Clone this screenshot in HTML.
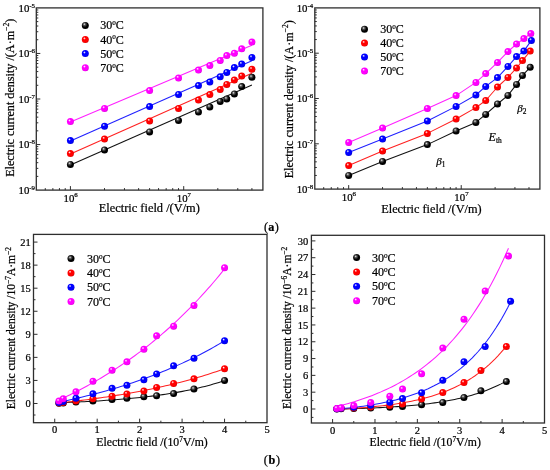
<!DOCTYPE html><html><head><meta charset="utf-8"><style>html,body{margin:0;padding:0;background:#fff;}body{width:550px;height:470px;overflow:hidden;}text{stroke:#000;stroke-width:0.22px;}</style></head><body><svg width="550" height="470" viewBox="0 0 550 470" style="display:block">
<defs>
<radialGradient id="gk" cx="0.42" cy="0.4" r="0.6" fx="0.36" fy="0.32"><stop offset="0" stop-color="#f0f0f0"/><stop offset="0.28" stop-color="#555"/><stop offset="0.65" stop-color="#000"/><stop offset="1" stop-color="#000"/></radialGradient>
<radialGradient id="gr" cx="0.42" cy="0.4" r="0.62" fx="0.36" fy="0.32"><stop offset="0" stop-color="#ffffff"/><stop offset="0.32" stop-color="#ff0000"/><stop offset="0.8" stop-color="#ff0000"/><stop offset="1" stop-color="#d00000"/></radialGradient>
<radialGradient id="gb" cx="0.42" cy="0.4" r="0.62" fx="0.36" fy="0.32"><stop offset="0" stop-color="#ffffff"/><stop offset="0.32" stop-color="#0000ff"/><stop offset="0.8" stop-color="#0000ff"/><stop offset="1" stop-color="#0000c8"/></radialGradient>
<radialGradient id="gm" cx="0.42" cy="0.4" r="0.62" fx="0.36" fy="0.32"><stop offset="0" stop-color="#ffffff"/><stop offset="0.32" stop-color="#ff00ff"/><stop offset="0.8" stop-color="#ff00ff"/><stop offset="1" stop-color="#d800d8"/></radialGradient>
</defs>
<rect width="550" height="470" fill="#fff"/>
<g style="font-family:'Liberation Serif','Times New Roman',serif" fill="#000">
<line x1="45.27" y1="190.1" x2="45.27" y2="188.1" stroke="#2e2e2e" stroke-width="1.0"/>
<line x1="52.86" y1="190.1" x2="52.86" y2="188.1" stroke="#2e2e2e" stroke-width="1.0"/>
<line x1="59.43" y1="190.1" x2="59.43" y2="188.1" stroke="#2e2e2e" stroke-width="1.0"/>
<line x1="65.22" y1="190.1" x2="65.22" y2="188.1" stroke="#2e2e2e" stroke-width="1.0"/>
<line x1="70.41" y1="190.1" x2="70.41" y2="186.1" stroke="#2e2e2e" stroke-width="1.0"/>
<line x1="104.51" y1="190.1" x2="104.51" y2="188.1" stroke="#2e2e2e" stroke-width="1.0"/>
<line x1="124.46" y1="190.1" x2="124.46" y2="188.1" stroke="#2e2e2e" stroke-width="1.0"/>
<line x1="138.62" y1="190.1" x2="138.62" y2="188.1" stroke="#2e2e2e" stroke-width="1.0"/>
<line x1="149.6" y1="190.1" x2="149.6" y2="188.1" stroke="#2e2e2e" stroke-width="1.0"/>
<line x1="158.57" y1="190.1" x2="158.57" y2="188.1" stroke="#2e2e2e" stroke-width="1.0"/>
<line x1="166.16" y1="190.1" x2="166.16" y2="188.1" stroke="#2e2e2e" stroke-width="1.0"/>
<line x1="172.73" y1="190.1" x2="172.73" y2="188.1" stroke="#2e2e2e" stroke-width="1.0"/>
<line x1="178.52" y1="190.1" x2="178.52" y2="188.1" stroke="#2e2e2e" stroke-width="1.0"/>
<line x1="183.71" y1="190.1" x2="183.71" y2="186.1" stroke="#2e2e2e" stroke-width="1.0"/>
<line x1="217.81" y1="190.1" x2="217.81" y2="188.1" stroke="#2e2e2e" stroke-width="1.0"/>
<line x1="237.76" y1="190.1" x2="237.76" y2="188.1" stroke="#2e2e2e" stroke-width="1.0"/>
<line x1="251.92" y1="190.1" x2="251.92" y2="188.1" stroke="#2e2e2e" stroke-width="1.0"/>
<line x1="36.3" y1="176.39" x2="38.3" y2="176.39" stroke="#2e2e2e" stroke-width="1.0"/>
<line x1="36.3" y1="168.37" x2="38.3" y2="168.37" stroke="#2e2e2e" stroke-width="1.0"/>
<line x1="36.3" y1="162.68" x2="38.3" y2="162.68" stroke="#2e2e2e" stroke-width="1.0"/>
<line x1="36.3" y1="158.26" x2="38.3" y2="158.26" stroke="#2e2e2e" stroke-width="1.0"/>
<line x1="36.3" y1="154.66" x2="38.3" y2="154.66" stroke="#2e2e2e" stroke-width="1.0"/>
<line x1="36.3" y1="151.61" x2="38.3" y2="151.61" stroke="#2e2e2e" stroke-width="1.0"/>
<line x1="36.3" y1="148.96" x2="38.3" y2="148.96" stroke="#2e2e2e" stroke-width="1.0"/>
<line x1="36.3" y1="146.63" x2="38.3" y2="146.63" stroke="#2e2e2e" stroke-width="1.0"/>
<line x1="36.3" y1="144.55" x2="40.3" y2="144.55" stroke="#2e2e2e" stroke-width="1.0"/>
<line x1="36.3" y1="130.84" x2="38.3" y2="130.84" stroke="#2e2e2e" stroke-width="1.0"/>
<line x1="36.3" y1="122.82" x2="38.3" y2="122.82" stroke="#2e2e2e" stroke-width="1.0"/>
<line x1="36.3" y1="117.13" x2="38.3" y2="117.13" stroke="#2e2e2e" stroke-width="1.0"/>
<line x1="36.3" y1="112.71" x2="38.3" y2="112.71" stroke="#2e2e2e" stroke-width="1.0"/>
<line x1="36.3" y1="109.11" x2="38.3" y2="109.11" stroke="#2e2e2e" stroke-width="1.0"/>
<line x1="36.3" y1="106.06" x2="38.3" y2="106.06" stroke="#2e2e2e" stroke-width="1.0"/>
<line x1="36.3" y1="103.41" x2="38.3" y2="103.41" stroke="#2e2e2e" stroke-width="1.0"/>
<line x1="36.3" y1="101.08" x2="38.3" y2="101.08" stroke="#2e2e2e" stroke-width="1.0"/>
<line x1="36.3" y1="99" x2="40.3" y2="99" stroke="#2e2e2e" stroke-width="1.0"/>
<line x1="36.3" y1="85.29" x2="38.3" y2="85.29" stroke="#2e2e2e" stroke-width="1.0"/>
<line x1="36.3" y1="77.27" x2="38.3" y2="77.27" stroke="#2e2e2e" stroke-width="1.0"/>
<line x1="36.3" y1="71.58" x2="38.3" y2="71.58" stroke="#2e2e2e" stroke-width="1.0"/>
<line x1="36.3" y1="67.16" x2="38.3" y2="67.16" stroke="#2e2e2e" stroke-width="1.0"/>
<line x1="36.3" y1="63.56" x2="38.3" y2="63.56" stroke="#2e2e2e" stroke-width="1.0"/>
<line x1="36.3" y1="60.51" x2="38.3" y2="60.51" stroke="#2e2e2e" stroke-width="1.0"/>
<line x1="36.3" y1="57.86" x2="38.3" y2="57.86" stroke="#2e2e2e" stroke-width="1.0"/>
<line x1="36.3" y1="55.53" x2="38.3" y2="55.53" stroke="#2e2e2e" stroke-width="1.0"/>
<line x1="36.3" y1="53.45" x2="40.3" y2="53.45" stroke="#2e2e2e" stroke-width="1.0"/>
<line x1="36.3" y1="39.74" x2="38.3" y2="39.74" stroke="#2e2e2e" stroke-width="1.0"/>
<line x1="36.3" y1="31.72" x2="38.3" y2="31.72" stroke="#2e2e2e" stroke-width="1.0"/>
<line x1="36.3" y1="26.03" x2="38.3" y2="26.03" stroke="#2e2e2e" stroke-width="1.0"/>
<line x1="36.3" y1="21.61" x2="38.3" y2="21.61" stroke="#2e2e2e" stroke-width="1.0"/>
<line x1="36.3" y1="18.01" x2="38.3" y2="18.01" stroke="#2e2e2e" stroke-width="1.0"/>
<line x1="36.3" y1="14.96" x2="38.3" y2="14.96" stroke="#2e2e2e" stroke-width="1.0"/>
<line x1="36.3" y1="12.31" x2="38.3" y2="12.31" stroke="#2e2e2e" stroke-width="1.0"/>
<line x1="36.3" y1="9.98" x2="38.3" y2="9.98" stroke="#2e2e2e" stroke-width="1.0"/>
<rect x="36.3" y="7.9" width="226.6" height="182.2" fill="none" stroke="#2e2e2e" stroke-width="1.3"/>
<text x="35" y="193.8" font-size="10.8" text-anchor="end" >10<tspan font-size="6.8" dy="-3.9">-9</tspan></text>
<text x="35" y="148.25" font-size="10.8" text-anchor="end" >10<tspan font-size="6.8" dy="-3.9">-8</tspan></text>
<text x="35" y="102.7" font-size="10.8" text-anchor="end" >10<tspan font-size="6.8" dy="-3.9">-7</tspan></text>
<text x="35" y="57.15" font-size="10.8" text-anchor="end" >10<tspan font-size="6.8" dy="-3.9">-6</tspan></text>
<text x="35" y="11.6" font-size="10.8" text-anchor="end" >10<tspan font-size="6.8" dy="-3.9">-5</tspan></text>
<text x="70.61" y="201.7" font-size="10.8" text-anchor="middle" >10<tspan font-size="6.8" dy="-4.8">6</tspan></text>
<text x="183.91" y="201.7" font-size="10.8" text-anchor="middle" >10<tspan font-size="6.8" dy="-4.8">7</tspan></text>
<text x="149.3" y="212.3" font-size="12.4" text-anchor="middle" >Electric field /(V/m)</text>
<text transform="translate(13.9,97.8) rotate(-90)" font-size="12.15" text-anchor="middle">Electric current density /(A·m<tspan font-size="7.6" dy="-4.5">−2</tspan><tspan dy="4.5">)</tspan></text>
<polyline points="70.41,165 251.92,85" fill="none" stroke="#111111" stroke-width="1.05" stroke-linejoin="round"/>
<polyline points="70.41,154 251.92,73.3" fill="none" stroke="#ff2020" stroke-width="1.05" stroke-linejoin="round"/>
<polyline points="70.41,141 251.92,60.8" fill="none" stroke="#2020ff" stroke-width="1.05" stroke-linejoin="round"/>
<polyline points="70.41,122 251.92,45.2" fill="none" stroke="#ff20ff" stroke-width="1.05" stroke-linejoin="round"/>
<circle cx="70.41" cy="164.4" r="3.5" fill="url(#gk)"/>
<circle cx="104.51" cy="150" r="3.5" fill="url(#gk)"/>
<circle cx="149.6" cy="132" r="3.5" fill="url(#gk)"/>
<circle cx="178.52" cy="120.4" r="3.5" fill="url(#gk)"/>
<circle cx="198.47" cy="112" r="3.5" fill="url(#gk)"/>
<circle cx="209.82" cy="107" r="3.5" fill="url(#gk)"/>
<circle cx="220.21" cy="101.4" r="3.5" fill="url(#gk)"/>
<circle cx="226.78" cy="99" r="3.5" fill="url(#gk)"/>
<circle cx="234.37" cy="94" r="3.5" fill="url(#gk)"/>
<circle cx="241.7" cy="86.6" r="3.5" fill="url(#gk)"/>
<circle cx="251.92" cy="77.3" r="3.5" fill="url(#gk)"/>
<circle cx="70.41" cy="153.6" r="3.5" fill="url(#gr)"/>
<circle cx="104.51" cy="139" r="3.5" fill="url(#gr)"/>
<circle cx="149.6" cy="121" r="3.5" fill="url(#gr)"/>
<circle cx="178.52" cy="108.4" r="3.5" fill="url(#gr)"/>
<circle cx="198.47" cy="100" r="3.5" fill="url(#gr)"/>
<circle cx="209.82" cy="94.6" r="3.5" fill="url(#gr)"/>
<circle cx="220.21" cy="89.4" r="3.5" fill="url(#gr)"/>
<circle cx="226.78" cy="84.4" r="3.5" fill="url(#gr)"/>
<circle cx="234.37" cy="80" r="3.5" fill="url(#gr)"/>
<circle cx="241.7" cy="76" r="3.5" fill="url(#gr)"/>
<circle cx="251.92" cy="69.2" r="3.5" fill="url(#gr)"/>
<circle cx="70.41" cy="140.6" r="3.5" fill="url(#gb)"/>
<circle cx="104.51" cy="126.2" r="3.5" fill="url(#gb)"/>
<circle cx="149.6" cy="106.6" r="3.5" fill="url(#gb)"/>
<circle cx="178.52" cy="94.4" r="3.5" fill="url(#gb)"/>
<circle cx="198.47" cy="85.6" r="3.5" fill="url(#gb)"/>
<circle cx="209.82" cy="82" r="3.5" fill="url(#gb)"/>
<circle cx="220.21" cy="76.8" r="3.5" fill="url(#gb)"/>
<circle cx="226.78" cy="72.4" r="3.5" fill="url(#gb)"/>
<circle cx="234.37" cy="67.6" r="3.5" fill="url(#gb)"/>
<circle cx="241.7" cy="64" r="3.5" fill="url(#gb)"/>
<circle cx="251.92" cy="57.5" r="3.5" fill="url(#gb)"/>
<circle cx="70.41" cy="121.6" r="3.5" fill="url(#gm)"/>
<circle cx="104.51" cy="108.4" r="3.5" fill="url(#gm)"/>
<circle cx="149.6" cy="90.6" r="3.5" fill="url(#gm)"/>
<circle cx="178.52" cy="78" r="3.5" fill="url(#gm)"/>
<circle cx="198.47" cy="70" r="3.5" fill="url(#gm)"/>
<circle cx="209.82" cy="65.6" r="3.5" fill="url(#gm)"/>
<circle cx="220.21" cy="60.4" r="3.5" fill="url(#gm)"/>
<circle cx="226.78" cy="55.6" r="3.5" fill="url(#gm)"/>
<circle cx="234.37" cy="53.2" r="3.5" fill="url(#gm)"/>
<circle cx="241.7" cy="48.8" r="3.5" fill="url(#gm)"/>
<circle cx="251.92" cy="42" r="3.5" fill="url(#gm)"/>
<circle cx="85.3" cy="25.4" r="3.5" fill="url(#gk)"/>
<text x="100.2" y="29.48" font-size="12" text-anchor="start" >30<tspan font-size="7.2" dy="-4.1">o</tspan><tspan dy="4.1">C</tspan></text>
<circle cx="85.3" cy="39.5" r="3.5" fill="url(#gr)"/>
<text x="100.2" y="43.58" font-size="12" text-anchor="start" >40<tspan font-size="7.2" dy="-4.1">o</tspan><tspan dy="4.1">C</tspan></text>
<circle cx="85.3" cy="53.6" r="3.5" fill="url(#gb)"/>
<text x="100.2" y="57.68" font-size="12" text-anchor="start" >50<tspan font-size="7.2" dy="-4.1">o</tspan><tspan dy="4.1">C</tspan></text>
<circle cx="85.3" cy="67.7" r="3.5" fill="url(#gm)"/>
<text x="100.2" y="71.78" font-size="12" text-anchor="start" >70<tspan font-size="7.2" dy="-4.1">o</tspan><tspan dy="4.1">C</tspan></text>
<line x1="323.71" y1="189.1" x2="323.71" y2="187.1" stroke="#2e2e2e" stroke-width="1.0"/>
<line x1="331.25" y1="189.1" x2="331.25" y2="187.1" stroke="#2e2e2e" stroke-width="1.0"/>
<line x1="337.77" y1="189.1" x2="337.77" y2="187.1" stroke="#2e2e2e" stroke-width="1.0"/>
<line x1="343.53" y1="189.1" x2="343.53" y2="187.1" stroke="#2e2e2e" stroke-width="1.0"/>
<line x1="348.68" y1="189.1" x2="348.68" y2="185.1" stroke="#2e2e2e" stroke-width="1.0"/>
<line x1="382.56" y1="189.1" x2="382.56" y2="187.1" stroke="#2e2e2e" stroke-width="1.0"/>
<line x1="402.38" y1="189.1" x2="402.38" y2="187.1" stroke="#2e2e2e" stroke-width="1.0"/>
<line x1="416.44" y1="189.1" x2="416.44" y2="187.1" stroke="#2e2e2e" stroke-width="1.0"/>
<line x1="427.35" y1="189.1" x2="427.35" y2="187.1" stroke="#2e2e2e" stroke-width="1.0"/>
<line x1="436.26" y1="189.1" x2="436.26" y2="187.1" stroke="#2e2e2e" stroke-width="1.0"/>
<line x1="443.8" y1="189.1" x2="443.8" y2="187.1" stroke="#2e2e2e" stroke-width="1.0"/>
<line x1="450.32" y1="189.1" x2="450.32" y2="187.1" stroke="#2e2e2e" stroke-width="1.0"/>
<line x1="456.08" y1="189.1" x2="456.08" y2="187.1" stroke="#2e2e2e" stroke-width="1.0"/>
<line x1="461.23" y1="189.1" x2="461.23" y2="185.1" stroke="#2e2e2e" stroke-width="1.0"/>
<line x1="495.11" y1="189.1" x2="495.11" y2="187.1" stroke="#2e2e2e" stroke-width="1.0"/>
<line x1="514.93" y1="189.1" x2="514.93" y2="187.1" stroke="#2e2e2e" stroke-width="1.0"/>
<line x1="528.99" y1="189.1" x2="528.99" y2="187.1" stroke="#2e2e2e" stroke-width="1.0"/>
<line x1="314.8" y1="175.46" x2="316.8" y2="175.46" stroke="#2e2e2e" stroke-width="1.0"/>
<line x1="314.8" y1="167.49" x2="316.8" y2="167.49" stroke="#2e2e2e" stroke-width="1.0"/>
<line x1="314.8" y1="161.83" x2="316.8" y2="161.83" stroke="#2e2e2e" stroke-width="1.0"/>
<line x1="314.8" y1="157.44" x2="316.8" y2="157.44" stroke="#2e2e2e" stroke-width="1.0"/>
<line x1="314.8" y1="153.85" x2="316.8" y2="153.85" stroke="#2e2e2e" stroke-width="1.0"/>
<line x1="314.8" y1="150.82" x2="316.8" y2="150.82" stroke="#2e2e2e" stroke-width="1.0"/>
<line x1="314.8" y1="148.19" x2="316.8" y2="148.19" stroke="#2e2e2e" stroke-width="1.0"/>
<line x1="314.8" y1="145.87" x2="316.8" y2="145.87" stroke="#2e2e2e" stroke-width="1.0"/>
<line x1="314.8" y1="143.8" x2="318.8" y2="143.8" stroke="#2e2e2e" stroke-width="1.0"/>
<line x1="314.8" y1="130.16" x2="316.8" y2="130.16" stroke="#2e2e2e" stroke-width="1.0"/>
<line x1="314.8" y1="122.19" x2="316.8" y2="122.19" stroke="#2e2e2e" stroke-width="1.0"/>
<line x1="314.8" y1="116.53" x2="316.8" y2="116.53" stroke="#2e2e2e" stroke-width="1.0"/>
<line x1="314.8" y1="112.14" x2="316.8" y2="112.14" stroke="#2e2e2e" stroke-width="1.0"/>
<line x1="314.8" y1="108.55" x2="316.8" y2="108.55" stroke="#2e2e2e" stroke-width="1.0"/>
<line x1="314.8" y1="105.52" x2="316.8" y2="105.52" stroke="#2e2e2e" stroke-width="1.0"/>
<line x1="314.8" y1="102.89" x2="316.8" y2="102.89" stroke="#2e2e2e" stroke-width="1.0"/>
<line x1="314.8" y1="100.57" x2="316.8" y2="100.57" stroke="#2e2e2e" stroke-width="1.0"/>
<line x1="314.8" y1="98.5" x2="318.8" y2="98.5" stroke="#2e2e2e" stroke-width="1.0"/>
<line x1="314.8" y1="84.86" x2="316.8" y2="84.86" stroke="#2e2e2e" stroke-width="1.0"/>
<line x1="314.8" y1="76.89" x2="316.8" y2="76.89" stroke="#2e2e2e" stroke-width="1.0"/>
<line x1="314.8" y1="71.23" x2="316.8" y2="71.23" stroke="#2e2e2e" stroke-width="1.0"/>
<line x1="314.8" y1="66.84" x2="316.8" y2="66.84" stroke="#2e2e2e" stroke-width="1.0"/>
<line x1="314.8" y1="63.25" x2="316.8" y2="63.25" stroke="#2e2e2e" stroke-width="1.0"/>
<line x1="314.8" y1="60.22" x2="316.8" y2="60.22" stroke="#2e2e2e" stroke-width="1.0"/>
<line x1="314.8" y1="57.59" x2="316.8" y2="57.59" stroke="#2e2e2e" stroke-width="1.0"/>
<line x1="314.8" y1="55.27" x2="316.8" y2="55.27" stroke="#2e2e2e" stroke-width="1.0"/>
<line x1="314.8" y1="53.2" x2="318.8" y2="53.2" stroke="#2e2e2e" stroke-width="1.0"/>
<line x1="314.8" y1="39.56" x2="316.8" y2="39.56" stroke="#2e2e2e" stroke-width="1.0"/>
<line x1="314.8" y1="31.59" x2="316.8" y2="31.59" stroke="#2e2e2e" stroke-width="1.0"/>
<line x1="314.8" y1="25.93" x2="316.8" y2="25.93" stroke="#2e2e2e" stroke-width="1.0"/>
<line x1="314.8" y1="21.54" x2="316.8" y2="21.54" stroke="#2e2e2e" stroke-width="1.0"/>
<line x1="314.8" y1="17.95" x2="316.8" y2="17.95" stroke="#2e2e2e" stroke-width="1.0"/>
<line x1="314.8" y1="14.92" x2="316.8" y2="14.92" stroke="#2e2e2e" stroke-width="1.0"/>
<line x1="314.8" y1="12.29" x2="316.8" y2="12.29" stroke="#2e2e2e" stroke-width="1.0"/>
<line x1="314.8" y1="9.97" x2="316.8" y2="9.97" stroke="#2e2e2e" stroke-width="1.0"/>
<rect x="314.8" y="7.9" width="225.1" height="181.2" fill="none" stroke="#2e2e2e" stroke-width="1.3"/>
<text x="313.2" y="192.8" font-size="10.8" text-anchor="end" >10<tspan font-size="6.8" dy="-3.9">-8</tspan></text>
<text x="313.2" y="147.5" font-size="10.8" text-anchor="end" >10<tspan font-size="6.8" dy="-3.9">-7</tspan></text>
<text x="313.2" y="102.2" font-size="10.8" text-anchor="end" >10<tspan font-size="6.8" dy="-3.9">-6</tspan></text>
<text x="313.2" y="56.9" font-size="10.8" text-anchor="end" >10<tspan font-size="6.8" dy="-3.9">-5</tspan></text>
<text x="313.2" y="11.6" font-size="10.8" text-anchor="end" >10<tspan font-size="6.8" dy="-3.9">-4</tspan></text>
<text x="348.88" y="200.5" font-size="10.8" text-anchor="middle" >10<tspan font-size="6.8" dy="-4.8">6</tspan></text>
<text x="461.43" y="200.5" font-size="10.8" text-anchor="middle" >10<tspan font-size="6.8" dy="-4.8">7</tspan></text>
<text x="431.4" y="212.6" font-size="12.3" text-anchor="middle" >Electric field /(V/m)</text>
<text transform="translate(292.5,99.3) rotate(-90)" font-size="12.15" text-anchor="middle">Electric current density /(A·m<tspan font-size="7.6" dy="-4.5">−2</tspan><tspan dy="4.5">)</tspan></text>
<polyline points="348.68,175.4 382.56,161.4 427.35,144.6 456.08,131 475.9,122.4 485.71,114.4 497.5,104 507.94,95.4 516.53,84.4 522.47,75.4 530.2,67.3" fill="none" stroke="#111111" stroke-width="1.05" stroke-linejoin="round"/>
<polyline points="348.68,165.6 382.56,151 427.35,133.4 456.08,119 475.9,107.6 485.71,100.5 497.5,87 507.94,77.4 516.53,68 522.47,60.6 530.2,51.1" fill="none" stroke="#ff2020" stroke-width="1.05" stroke-linejoin="round"/>
<polyline points="348.68,152.4 382.56,139 427.35,121 456.08,106.4 475.9,95 485.71,86.4 497.5,77.6 507.94,66.4 516.53,56.6 523.84,51.1 531.38,40.4" fill="none" stroke="#2020ff" stroke-width="1.05" stroke-linejoin="round"/>
<polyline points="348.68,142.4 382.56,128 427.35,108.4 456.08,95.6 475.9,82.4 485.71,73.6 497.5,62.4 507.94,51.6 516.53,44 523.84,38.6 530.79,33.5" fill="none" stroke="#ff20ff" stroke-width="1.05" stroke-linejoin="round"/>
<circle cx="348.68" cy="175.4" r="3.5" fill="url(#gk)"/>
<circle cx="382.56" cy="161.4" r="3.5" fill="url(#gk)"/>
<circle cx="427.35" cy="144.6" r="3.5" fill="url(#gk)"/>
<circle cx="456.08" cy="131" r="3.5" fill="url(#gk)"/>
<circle cx="475.9" cy="122.4" r="3.5" fill="url(#gk)"/>
<circle cx="485.71" cy="114.4" r="3.5" fill="url(#gk)"/>
<circle cx="497.5" cy="104" r="3.5" fill="url(#gk)"/>
<circle cx="507.94" cy="95.4" r="3.5" fill="url(#gk)"/>
<circle cx="516.53" cy="84.4" r="3.5" fill="url(#gk)"/>
<circle cx="522.47" cy="75.4" r="3.5" fill="url(#gk)"/>
<circle cx="530.2" cy="67.3" r="3.5" fill="url(#gk)"/>
<circle cx="348.68" cy="165.6" r="3.5" fill="url(#gr)"/>
<circle cx="382.56" cy="151" r="3.5" fill="url(#gr)"/>
<circle cx="427.35" cy="133.4" r="3.5" fill="url(#gr)"/>
<circle cx="456.08" cy="119" r="3.5" fill="url(#gr)"/>
<circle cx="475.9" cy="107.6" r="3.5" fill="url(#gr)"/>
<circle cx="485.71" cy="100.5" r="3.5" fill="url(#gr)"/>
<circle cx="497.5" cy="87" r="3.5" fill="url(#gr)"/>
<circle cx="507.94" cy="77.4" r="3.5" fill="url(#gr)"/>
<circle cx="516.53" cy="68" r="3.5" fill="url(#gr)"/>
<circle cx="522.47" cy="60.6" r="3.5" fill="url(#gr)"/>
<circle cx="530.2" cy="51.1" r="3.5" fill="url(#gr)"/>
<circle cx="348.68" cy="152.4" r="3.5" fill="url(#gb)"/>
<circle cx="382.56" cy="139" r="3.5" fill="url(#gb)"/>
<circle cx="427.35" cy="121" r="3.5" fill="url(#gb)"/>
<circle cx="456.08" cy="106.4" r="3.5" fill="url(#gb)"/>
<circle cx="475.9" cy="95" r="3.5" fill="url(#gb)"/>
<circle cx="485.71" cy="86.4" r="3.5" fill="url(#gb)"/>
<circle cx="497.5" cy="77.6" r="3.5" fill="url(#gb)"/>
<circle cx="507.94" cy="66.4" r="3.5" fill="url(#gb)"/>
<circle cx="516.53" cy="56.6" r="3.5" fill="url(#gb)"/>
<circle cx="523.84" cy="51.1" r="3.5" fill="url(#gb)"/>
<circle cx="531.38" cy="40.4" r="3.5" fill="url(#gb)"/>
<circle cx="348.68" cy="142.4" r="3.5" fill="url(#gm)"/>
<circle cx="382.56" cy="128" r="3.5" fill="url(#gm)"/>
<circle cx="427.35" cy="108.4" r="3.5" fill="url(#gm)"/>
<circle cx="456.08" cy="95.6" r="3.5" fill="url(#gm)"/>
<circle cx="475.9" cy="82.4" r="3.5" fill="url(#gm)"/>
<circle cx="485.71" cy="73.6" r="3.5" fill="url(#gm)"/>
<circle cx="497.5" cy="62.4" r="3.5" fill="url(#gm)"/>
<circle cx="507.94" cy="51.6" r="3.5" fill="url(#gm)"/>
<circle cx="516.53" cy="44" r="3.5" fill="url(#gm)"/>
<circle cx="523.84" cy="38.6" r="3.5" fill="url(#gm)"/>
<circle cx="530.79" cy="33.5" r="3.5" fill="url(#gm)"/>
<circle cx="364.5" cy="29.2" r="3.5" fill="url(#gk)"/>
<text x="380.2" y="33.28" font-size="12" text-anchor="start" >30<tspan font-size="7.2" dy="-4.1">o</tspan><tspan dy="4.1">C</tspan></text>
<circle cx="364.5" cy="43.1" r="3.5" fill="url(#gr)"/>
<text x="380.2" y="47.18" font-size="12" text-anchor="start" >40<tspan font-size="7.2" dy="-4.1">o</tspan><tspan dy="4.1">C</tspan></text>
<circle cx="364.5" cy="57" r="3.5" fill="url(#gb)"/>
<text x="380.2" y="61.08" font-size="12" text-anchor="start" >50<tspan font-size="7.2" dy="-4.1">o</tspan><tspan dy="4.1">C</tspan></text>
<circle cx="364.5" cy="70.9" r="3.5" fill="url(#gm)"/>
<text x="380.2" y="74.98" font-size="12" text-anchor="start" >70<tspan font-size="7.2" dy="-4.1">o</tspan><tspan dy="4.1">C</tspan></text>
<text x="436.2" y="165" font-size="11" text-anchor="start" ><tspan font-style="italic">β</tspan><tspan font-size="7.4" dy="2">1</tspan></text>
<text x="488.6" y="140.6" font-size="12" text-anchor="start" ><tspan font-style="italic">E</tspan><tspan font-size="7.4" dy="2.2">th</tspan></text>
<text x="517.2" y="111.8" font-size="11" text-anchor="start" ><tspan font-style="italic">β</tspan><tspan font-size="7.4" dy="2">2</tspan></text>
<text x="264" y="230.7" font-size="12.2" text-anchor="start" letter-spacing="0.25">(<tspan font-weight="bold">a</tspan>)</text>
<line x1="54.73" y1="422.7" x2="54.73" y2="418.7" stroke="#2e2e2e" stroke-width="1.0"/>
<line x1="75.95" y1="422.7" x2="75.95" y2="420.7" stroke="#2e2e2e" stroke-width="1.0"/>
<line x1="97.18" y1="422.7" x2="97.18" y2="418.7" stroke="#2e2e2e" stroke-width="1.0"/>
<line x1="118.41" y1="422.7" x2="118.41" y2="420.7" stroke="#2e2e2e" stroke-width="1.0"/>
<line x1="139.64" y1="422.7" x2="139.64" y2="418.7" stroke="#2e2e2e" stroke-width="1.0"/>
<line x1="160.86" y1="422.7" x2="160.86" y2="420.7" stroke="#2e2e2e" stroke-width="1.0"/>
<line x1="182.09" y1="422.7" x2="182.09" y2="418.7" stroke="#2e2e2e" stroke-width="1.0"/>
<line x1="203.32" y1="422.7" x2="203.32" y2="420.7" stroke="#2e2e2e" stroke-width="1.0"/>
<line x1="224.55" y1="422.7" x2="224.55" y2="418.7" stroke="#2e2e2e" stroke-width="1.0"/>
<line x1="245.77" y1="422.7" x2="245.77" y2="420.7" stroke="#2e2e2e" stroke-width="1.0"/>
<line x1="33.5" y1="415.01" x2="35.5" y2="415.01" stroke="#2e2e2e" stroke-width="1.0"/>
<line x1="33.5" y1="403.49" x2="37.5" y2="403.49" stroke="#2e2e2e" stroke-width="1.0"/>
<line x1="33.5" y1="391.96" x2="35.5" y2="391.96" stroke="#2e2e2e" stroke-width="1.0"/>
<line x1="33.5" y1="380.43" x2="37.5" y2="380.43" stroke="#2e2e2e" stroke-width="1.0"/>
<line x1="33.5" y1="368.9" x2="35.5" y2="368.9" stroke="#2e2e2e" stroke-width="1.0"/>
<line x1="33.5" y1="357.37" x2="37.5" y2="357.37" stroke="#2e2e2e" stroke-width="1.0"/>
<line x1="33.5" y1="345.84" x2="35.5" y2="345.84" stroke="#2e2e2e" stroke-width="1.0"/>
<line x1="33.5" y1="334.31" x2="37.5" y2="334.31" stroke="#2e2e2e" stroke-width="1.0"/>
<line x1="33.5" y1="322.79" x2="35.5" y2="322.79" stroke="#2e2e2e" stroke-width="1.0"/>
<line x1="33.5" y1="311.26" x2="37.5" y2="311.26" stroke="#2e2e2e" stroke-width="1.0"/>
<line x1="33.5" y1="299.73" x2="35.5" y2="299.73" stroke="#2e2e2e" stroke-width="1.0"/>
<line x1="33.5" y1="288.2" x2="37.5" y2="288.2" stroke="#2e2e2e" stroke-width="1.0"/>
<line x1="33.5" y1="276.67" x2="35.5" y2="276.67" stroke="#2e2e2e" stroke-width="1.0"/>
<line x1="33.5" y1="265.14" x2="37.5" y2="265.14" stroke="#2e2e2e" stroke-width="1.0"/>
<line x1="33.5" y1="253.61" x2="35.5" y2="253.61" stroke="#2e2e2e" stroke-width="1.0"/>
<line x1="33.5" y1="242.09" x2="37.5" y2="242.09" stroke="#2e2e2e" stroke-width="1.0"/>
<rect x="33.5" y="234.4" width="233.5" height="188.3" fill="none" stroke="#2e2e2e" stroke-width="1.3"/>
<text x="30.8" y="407.09" font-size="10.5" text-anchor="end" >0</text>
<text x="30.8" y="384.03" font-size="10.5" text-anchor="end" >3</text>
<text x="30.8" y="360.97" font-size="10.5" text-anchor="end" >6</text>
<text x="30.8" y="337.91" font-size="10.5" text-anchor="end" >9</text>
<text x="30.8" y="314.86" font-size="10.5" text-anchor="end" >12</text>
<text x="30.8" y="291.8" font-size="10.5" text-anchor="end" >15</text>
<text x="30.8" y="268.74" font-size="10.5" text-anchor="end" >18</text>
<text x="30.8" y="245.69" font-size="10.5" text-anchor="end" >21</text>
<text x="54.73" y="432.8" font-size="10.5" text-anchor="middle" >0</text>
<text x="97.18" y="432.8" font-size="10.5" text-anchor="middle" >1</text>
<text x="139.64" y="432.8" font-size="10.5" text-anchor="middle" >2</text>
<text x="182.09" y="432.8" font-size="10.5" text-anchor="middle" >3</text>
<text x="224.55" y="432.8" font-size="10.5" text-anchor="middle" >4</text>
<text x="267" y="432.8" font-size="10.5" text-anchor="middle" >5</text>
<text x="152" y="446.2" font-size="11.75" text-anchor="middle" >Electric field /(10<tspan font-size="7.4" dy="-4.3">7</tspan><tspan dy="4.3">V/m)</tspan></text>
<text transform="translate(15.0,328.2) rotate(-90)" font-size="11.55" text-anchor="middle">Electric current density /10<tspan font-size="7.4" dy="-4.5">−7</tspan><tspan dy="4.5">A·m</tspan><tspan font-size="7.4" dy="-4.5">−2</tspan></text>
<polyline points="58.97,402.75 61.78,402.65 64.59,402.54 67.39,402.43 70.2,402.32 73,402.2 75.81,402.08 78.62,401.95 81.42,401.81 84.23,401.67 87.04,401.53 89.84,401.38 92.65,401.22 95.45,401.06 98.26,400.9 101.07,400.72 103.87,400.54 106.68,400.35 109.49,400.16 112.29,399.95 115.1,399.74 117.91,399.53 120.71,399.3 123.52,399.06 126.32,398.82 129.13,398.56 131.94,398.3 134.74,398.03 137.55,397.74 140.36,397.45 143.16,397.14 145.97,396.82 148.77,396.49 151.58,396.14 154.39,395.79 157.19,395.42 160,395.03 162.81,394.63 165.61,394.21 168.42,393.78 171.23,393.33 174.03,392.87 176.84,392.38 179.64,391.88 182.45,391.36 185.26,390.82 188.06,390.26 190.87,389.67 193.68,389.07 196.48,388.44 199.29,387.78 202.09,387.1 204.9,386.4 207.71,385.66 210.51,384.9 213.32,384.11 216.13,383.29 218.93,382.44 221.74,381.55 224.55,380.63" fill="none" stroke="#111111" stroke-width="1.05" stroke-linejoin="round"/>
<polyline points="58.97,402.96 61.78,402.66 64.59,402.35 67.39,402.04 70.2,401.72 73,401.39 75.81,401.06 78.62,400.72 81.42,400.37 84.23,400.02 87.04,399.66 89.84,399.29 92.65,398.91 95.45,398.52 98.26,398.13 101.07,397.73 103.87,397.32 106.68,396.9 109.49,396.48 112.29,396.04 115.1,395.6 117.91,395.14 120.71,394.68 123.52,394.21 126.32,393.73 129.13,393.23 131.94,392.73 134.74,392.22 137.55,391.69 140.36,391.16 143.16,390.61 145.97,390.06 148.77,389.49 151.58,388.91 154.39,388.32 157.19,387.71 160,387.09 162.81,386.46 165.61,385.82 168.42,385.17 171.23,384.5 174.03,383.81 176.84,383.11 179.64,382.4 182.45,381.67 185.26,380.93 188.06,380.17 190.87,379.4 193.68,378.61 196.48,377.81 199.29,376.98 202.09,376.14 204.9,375.29 207.71,374.41 210.51,373.52 213.32,372.61 216.13,371.68 218.93,370.73 221.74,369.76 224.55,368.77" fill="none" stroke="#ff2020" stroke-width="1.05" stroke-linejoin="round"/>
<polyline points="58.97,402.21 61.78,401.63 64.59,401.03 67.39,400.42 70.2,399.81 73,399.18 75.81,398.53 78.62,397.88 81.42,397.22 84.23,396.54 87.04,395.85 89.84,395.15 92.65,394.43 95.45,393.71 98.26,392.96 101.07,392.21 103.87,391.44 106.68,390.66 109.49,389.86 112.29,389.05 115.1,388.22 117.91,387.38 120.71,386.52 123.52,385.65 126.32,384.76 129.13,383.85 131.94,382.93 134.74,381.99 137.55,381.03 140.36,380.06 143.16,379.07 145.97,378.06 148.77,377.03 151.58,375.98 154.39,374.91 157.19,373.83 160,372.72 162.81,371.59 165.61,370.45 168.42,369.28 171.23,368.09 174.03,366.88 176.84,365.64 179.64,364.39 182.45,363.11 185.26,361.8 188.06,360.48 190.87,359.13 193.68,357.75 196.48,356.35 199.29,354.92 202.09,353.47 204.9,351.99 207.71,350.48 210.51,348.94 213.32,347.38 216.13,345.79 218.93,344.17 221.74,342.52 224.55,340.84" fill="none" stroke="#2020ff" stroke-width="1.05" stroke-linejoin="round"/>
<polyline points="58.97,400.08 61.78,398.77 64.59,397.44 67.39,396.09 70.2,394.71 73,393.31 75.81,391.89 78.62,390.44 81.42,388.97 84.23,387.47 87.04,385.95 89.84,384.4 92.65,382.82 95.45,381.22 98.26,379.59 101.07,377.94 103.87,376.25 106.68,374.54 109.49,372.79 112.29,371.02 115.1,369.22 117.91,367.39 120.71,365.52 123.52,363.63 126.32,361.7 129.13,359.74 131.94,357.74 134.74,355.71 137.55,353.65 140.36,351.55 143.16,349.42 145.97,347.25 148.77,345.04 151.58,342.8 154.39,340.52 157.19,338.2 160,335.84 162.81,333.43 165.61,330.99 168.42,328.51 171.23,325.99 174.03,323.42 176.84,320.81 179.64,318.15 182.45,315.45 185.26,312.7 188.06,309.91 190.87,307.07 193.68,304.18 196.48,301.24 199.29,298.25 202.09,295.21 204.9,292.12 207.71,288.97 210.51,285.78 213.32,282.53 216.13,279.22 218.93,275.86 221.74,272.44 224.55,268.96" fill="none" stroke="#ff20ff" stroke-width="1.05" stroke-linejoin="round"/>
<circle cx="58.97" cy="403.2" r="3.5" fill="url(#gk)"/>
<circle cx="63.22" cy="402.9" r="3.5" fill="url(#gk)"/>
<circle cx="75.95" cy="402.04" r="3.5" fill="url(#gk)"/>
<circle cx="92.94" cy="400.88" r="3.5" fill="url(#gk)"/>
<circle cx="112.04" cy="399.5" r="3.5" fill="url(#gk)"/>
<circle cx="126.9" cy="398.36" r="3.5" fill="url(#gk)"/>
<circle cx="143.88" cy="396.68" r="3.5" fill="url(#gk)"/>
<circle cx="156.62" cy="395.8" r="3.5" fill="url(#gk)"/>
<circle cx="173.6" cy="393.59" r="3.5" fill="url(#gk)"/>
<circle cx="193.98" cy="389.09" r="3.5" fill="url(#gk)"/>
<circle cx="224.55" cy="380.44" r="3.5" fill="url(#gk)"/>
<circle cx="58.97" cy="403" r="3.5" fill="url(#gr)"/>
<circle cx="63.22" cy="402.47" r="3.5" fill="url(#gr)"/>
<circle cx="75.95" cy="400.96" r="3.5" fill="url(#gr)"/>
<circle cx="92.94" cy="398.71" r="3.5" fill="url(#gr)"/>
<circle cx="112.04" cy="396.18" r="3.5" fill="url(#gr)"/>
<circle cx="126.9" cy="393.88" r="3.5" fill="url(#gr)"/>
<circle cx="143.88" cy="390.99" r="3.5" fill="url(#gr)"/>
<circle cx="156.62" cy="387.4" r="3.5" fill="url(#gr)"/>
<circle cx="173.6" cy="383.38" r="3.5" fill="url(#gr)"/>
<circle cx="193.98" cy="378.87" r="3.5" fill="url(#gr)"/>
<circle cx="224.55" cy="368.76" r="3.5" fill="url(#gr)"/>
<circle cx="58.97" cy="402.55" r="3.5" fill="url(#gb)"/>
<circle cx="63.22" cy="401.55" r="3.5" fill="url(#gb)"/>
<circle cx="75.95" cy="398.25" r="3.5" fill="url(#gb)"/>
<circle cx="92.94" cy="393.79" r="3.5" fill="url(#gb)"/>
<circle cx="112.04" cy="388.34" r="3.5" fill="url(#gb)"/>
<circle cx="126.9" cy="385.32" r="3.5" fill="url(#gb)"/>
<circle cx="143.88" cy="379.85" r="3.5" fill="url(#gb)"/>
<circle cx="156.62" cy="373.95" r="3.5" fill="url(#gb)"/>
<circle cx="173.6" cy="365.83" r="3.5" fill="url(#gb)"/>
<circle cx="193.98" cy="358.31" r="3.5" fill="url(#gb)"/>
<circle cx="224.55" cy="340.71" r="3.5" fill="url(#gb)"/>
<circle cx="58.97" cy="401.04" r="3.5" fill="url(#gm)"/>
<circle cx="63.22" cy="398.71" r="3.5" fill="url(#gm)"/>
<circle cx="75.95" cy="391.73" r="3.5" fill="url(#gm)"/>
<circle cx="92.94" cy="381.24" r="3.5" fill="url(#gm)"/>
<circle cx="112.04" cy="370.14" r="3.5" fill="url(#gm)"/>
<circle cx="126.9" cy="361.82" r="3.5" fill="url(#gm)"/>
<circle cx="143.88" cy="349.28" r="3.5" fill="url(#gm)"/>
<circle cx="156.62" cy="335.85" r="3.5" fill="url(#gm)"/>
<circle cx="173.6" cy="326.17" r="3.5" fill="url(#gm)"/>
<circle cx="193.98" cy="305.57" r="3.5" fill="url(#gm)"/>
<circle cx="224.55" cy="267.76" r="3.5" fill="url(#gm)"/>
<circle cx="71" cy="258.6" r="3.5" fill="url(#gk)"/>
<text x="87" y="262.68" font-size="12" text-anchor="start" >30<tspan font-size="7.2" dy="-4.1">o</tspan><tspan dy="4.1">C</tspan></text>
<circle cx="71" cy="272.9" r="3.5" fill="url(#gr)"/>
<text x="87" y="276.98" font-size="12" text-anchor="start" >40<tspan font-size="7.2" dy="-4.1">o</tspan><tspan dy="4.1">C</tspan></text>
<circle cx="71" cy="287.2" r="3.5" fill="url(#gb)"/>
<text x="87" y="291.28" font-size="12" text-anchor="start" >50<tspan font-size="7.2" dy="-4.1">o</tspan><tspan dy="4.1">C</tspan></text>
<circle cx="71" cy="301.5" r="3.5" fill="url(#gm)"/>
<text x="87" y="305.58" font-size="12" text-anchor="start" >70<tspan font-size="7.2" dy="-4.1">o</tspan><tspan dy="4.1">C</tspan></text>
<line x1="332.59" y1="423" x2="332.59" y2="419" stroke="#2e2e2e" stroke-width="1.0"/>
<line x1="353.78" y1="423" x2="353.78" y2="421" stroke="#2e2e2e" stroke-width="1.0"/>
<line x1="374.97" y1="423" x2="374.97" y2="419" stroke="#2e2e2e" stroke-width="1.0"/>
<line x1="396.16" y1="423" x2="396.16" y2="421" stroke="#2e2e2e" stroke-width="1.0"/>
<line x1="417.35" y1="423" x2="417.35" y2="419" stroke="#2e2e2e" stroke-width="1.0"/>
<line x1="438.55" y1="423" x2="438.55" y2="421" stroke="#2e2e2e" stroke-width="1.0"/>
<line x1="459.74" y1="423" x2="459.74" y2="419" stroke="#2e2e2e" stroke-width="1.0"/>
<line x1="480.93" y1="423" x2="480.93" y2="421" stroke="#2e2e2e" stroke-width="1.0"/>
<line x1="502.12" y1="423" x2="502.12" y2="419" stroke="#2e2e2e" stroke-width="1.0"/>
<line x1="523.31" y1="423" x2="523.31" y2="421" stroke="#2e2e2e" stroke-width="1.0"/>
<line x1="311.4" y1="417.4" x2="313.4" y2="417.4" stroke="#2e2e2e" stroke-width="1.0"/>
<line x1="311.4" y1="408.99" x2="315.4" y2="408.99" stroke="#2e2e2e" stroke-width="1.0"/>
<line x1="311.4" y1="400.59" x2="313.4" y2="400.59" stroke="#2e2e2e" stroke-width="1.0"/>
<line x1="311.4" y1="392.18" x2="315.4" y2="392.18" stroke="#2e2e2e" stroke-width="1.0"/>
<line x1="311.4" y1="383.78" x2="313.4" y2="383.78" stroke="#2e2e2e" stroke-width="1.0"/>
<line x1="311.4" y1="375.37" x2="315.4" y2="375.37" stroke="#2e2e2e" stroke-width="1.0"/>
<line x1="311.4" y1="366.97" x2="313.4" y2="366.97" stroke="#2e2e2e" stroke-width="1.0"/>
<line x1="311.4" y1="358.57" x2="315.4" y2="358.57" stroke="#2e2e2e" stroke-width="1.0"/>
<line x1="311.4" y1="350.16" x2="313.4" y2="350.16" stroke="#2e2e2e" stroke-width="1.0"/>
<line x1="311.4" y1="341.76" x2="315.4" y2="341.76" stroke="#2e2e2e" stroke-width="1.0"/>
<line x1="311.4" y1="333.35" x2="313.4" y2="333.35" stroke="#2e2e2e" stroke-width="1.0"/>
<line x1="311.4" y1="324.95" x2="315.4" y2="324.95" stroke="#2e2e2e" stroke-width="1.0"/>
<line x1="311.4" y1="316.54" x2="313.4" y2="316.54" stroke="#2e2e2e" stroke-width="1.0"/>
<line x1="311.4" y1="308.14" x2="315.4" y2="308.14" stroke="#2e2e2e" stroke-width="1.0"/>
<line x1="311.4" y1="299.73" x2="313.4" y2="299.73" stroke="#2e2e2e" stroke-width="1.0"/>
<line x1="311.4" y1="291.33" x2="315.4" y2="291.33" stroke="#2e2e2e" stroke-width="1.0"/>
<line x1="311.4" y1="282.93" x2="313.4" y2="282.93" stroke="#2e2e2e" stroke-width="1.0"/>
<line x1="311.4" y1="274.52" x2="315.4" y2="274.52" stroke="#2e2e2e" stroke-width="1.0"/>
<line x1="311.4" y1="266.12" x2="313.4" y2="266.12" stroke="#2e2e2e" stroke-width="1.0"/>
<line x1="311.4" y1="257.71" x2="315.4" y2="257.71" stroke="#2e2e2e" stroke-width="1.0"/>
<line x1="311.4" y1="249.31" x2="313.4" y2="249.31" stroke="#2e2e2e" stroke-width="1.0"/>
<line x1="311.4" y1="240.9" x2="315.4" y2="240.9" stroke="#2e2e2e" stroke-width="1.0"/>
<rect x="311.4" y="235.3" width="233.1" height="187.7" fill="none" stroke="#2e2e2e" stroke-width="1.3"/>
<text x="308.3" y="412.59" font-size="10.5" text-anchor="end" >0</text>
<text x="308.3" y="395.78" font-size="10.5" text-anchor="end" >3</text>
<text x="308.3" y="378.97" font-size="10.5" text-anchor="end" >6</text>
<text x="308.3" y="362.17" font-size="10.5" text-anchor="end" >9</text>
<text x="308.3" y="345.36" font-size="10.5" text-anchor="end" >12</text>
<text x="308.3" y="328.55" font-size="10.5" text-anchor="end" >15</text>
<text x="308.3" y="311.74" font-size="10.5" text-anchor="end" >18</text>
<text x="308.3" y="294.93" font-size="10.5" text-anchor="end" >21</text>
<text x="308.3" y="278.12" font-size="10.5" text-anchor="end" >24</text>
<text x="308.3" y="261.31" font-size="10.5" text-anchor="end" >27</text>
<text x="308.3" y="244.5" font-size="10.5" text-anchor="end" >30</text>
<text x="332.59" y="433.8" font-size="10.5" text-anchor="middle" >0</text>
<text x="374.97" y="433.8" font-size="10.5" text-anchor="middle" >1</text>
<text x="417.35" y="433.8" font-size="10.5" text-anchor="middle" >2</text>
<text x="459.74" y="433.8" font-size="10.5" text-anchor="middle" >3</text>
<text x="502.12" y="433.8" font-size="10.5" text-anchor="middle" >4</text>
<text x="544.5" y="433.8" font-size="10.5" text-anchor="middle" >5</text>
<text x="425.2" y="446.4" font-size="11.75" text-anchor="middle" >Electric field /(10<tspan font-size="7.4" dy="-4.3">7</tspan><tspan dy="4.3">V/m)</tspan></text>
<text transform="translate(291.0,327.9) rotate(-90)" font-size="11.55" text-anchor="middle">Electric current density /10<tspan font-size="7.4" dy="-4.5">−6</tspan><tspan dy="4.5">A·m</tspan><tspan font-size="7.4" dy="-4.5">−2</tspan></text>
<polyline points="336.83,409.08 339.7,409.02 342.58,408.95 345.45,408.88 348.32,408.8 351.2,408.73 354.07,408.64 356.94,408.55 359.82,408.46 362.69,408.36 365.56,408.26 368.44,408.15 371.31,408.03 374.18,407.91 377.06,407.78 379.93,407.64 382.8,407.5 385.68,407.34 388.55,407.18 391.42,407.01 394.3,406.83 397.17,406.64 400.04,406.43 402.92,406.22 405.79,405.99 408.66,405.76 411.54,405.5 414.41,405.24 417.28,404.95 420.16,404.66 423.03,404.34 425.9,404.01 428.78,403.66 431.65,403.28 434.52,402.89 437.4,402.48 440.27,402.04 443.14,401.57 446.02,401.08 448.89,400.56 451.76,400.01 454.64,399.44 457.51,398.82 460.38,398.18 463.26,397.49 466.13,396.77 469,396.01 471.88,395.2 474.75,394.34 477.62,393.44 480.5,392.49 483.37,391.48 486.24,390.42 489.12,389.29 491.99,388.1 494.86,386.84 497.74,385.51 500.61,384.11 503.48,382.62 506.36,381.05" fill="none" stroke="#111111" stroke-width="1.05" stroke-linejoin="round"/>
<polyline points="336.83,409.3 339.7,409.16 342.58,409.01 345.45,408.85 348.32,408.68 351.2,408.5 354.07,408.31 356.94,408.11 359.82,407.89 362.69,407.67 365.56,407.43 368.44,407.18 371.31,406.92 374.18,406.64 377.06,406.35 379.93,406.03 382.8,405.7 385.68,405.36 388.55,404.99 391.42,404.6 394.3,404.19 397.17,403.75 400.04,403.29 402.92,402.81 405.79,402.3 408.66,401.76 411.54,401.18 414.41,400.58 417.28,399.94 420.16,399.27 423.03,398.55 425.9,397.8 428.78,397 431.65,396.16 434.52,395.27 437.4,394.33 440.27,393.34 443.14,392.29 446.02,391.18 448.89,390.01 451.76,388.77 454.64,387.46 457.51,386.08 460.38,384.61 463.26,383.07 466.13,381.44 469,379.71 471.88,377.89 474.75,375.97 477.62,373.93 480.5,371.78 483.37,369.51 486.24,367.11 489.12,364.57 491.99,361.89 494.86,359.06 497.74,356.07 500.61,352.9 503.48,349.56 506.36,346.03" fill="none" stroke="#ff2020" stroke-width="1.05" stroke-linejoin="round"/>
<polyline points="336.83,409.14 339.77,408.88 342.72,408.59 345.66,408.3 348.61,407.99 351.55,407.66 354.5,407.31 357.45,406.94 360.39,406.55 363.34,406.15 366.28,405.72 369.23,405.26 372.17,404.78 375.12,404.28 378.06,403.75 381.01,403.19 383.95,402.59 386.9,401.97 389.84,401.31 392.79,400.62 395.73,399.89 398.68,399.12 401.62,398.3 404.57,397.44 407.51,396.54 410.46,395.59 413.4,394.58 416.35,393.52 419.29,392.4 422.24,391.22 425.18,389.98 428.13,388.67 431.07,387.28 434.02,385.83 436.97,384.29 439.91,382.67 442.86,380.96 445.8,379.15 448.75,377.25 451.69,375.25 454.64,373.13 457.58,370.9 460.53,368.55 463.47,366.07 466.42,363.46 469.36,360.7 472.31,357.79 475.25,354.73 478.2,351.49 481.14,348.08 484.09,344.49 487.03,340.7 489.98,336.7 492.92,332.48 495.87,328.04 498.81,323.35 501.76,318.41 504.7,313.19 507.65,307.7 510.59,301.9" fill="none" stroke="#2020ff" stroke-width="1.05" stroke-linejoin="round"/>
<polyline points="336.83,406.45 339.74,405.73 342.65,404.98 345.56,404.2 348.47,403.39 351.38,402.55 354.28,401.68 357.19,400.77 360.1,399.83 363.01,398.85 365.92,397.83 368.83,396.77 371.74,395.67 374.65,394.53 377.56,393.35 380.47,392.11 383.38,390.83 386.29,389.5 389.2,388.12 392.11,386.68 395.01,385.19 397.92,383.64 400.83,382.03 403.74,380.36 406.65,378.62 409.56,376.81 412.47,374.93 415.38,372.98 418.29,370.96 421.2,368.85 424.11,366.66 427.02,364.39 429.93,362.03 432.83,359.58 435.74,357.03 438.65,354.38 441.56,351.63 444.47,348.77 447.38,345.8 450.29,342.71 453.2,339.5 456.11,336.17 459.02,332.71 461.93,329.11 464.84,325.37 467.75,321.49 470.66,317.46 473.56,313.26 476.47,308.91 479.38,304.38 482.29,299.68 485.2,294.8 488.11,289.72 491.02,284.45 493.93,278.97 496.84,273.28 499.75,267.36 502.66,261.22 505.57,254.83 508.48,248.2" fill="none" stroke="#ff20ff" stroke-width="1.05" stroke-linejoin="round"/>
<circle cx="336.83" cy="408.88" r="3.5" fill="url(#gk)"/>
<circle cx="341.07" cy="408.76" r="3.5" fill="url(#gk)"/>
<circle cx="353.78" cy="408.46" r="3.5" fill="url(#gk)"/>
<circle cx="370.73" cy="407.92" r="3.5" fill="url(#gk)"/>
<circle cx="389.81" cy="407.33" r="3.5" fill="url(#gk)"/>
<circle cx="402.52" cy="406.5" r="3.5" fill="url(#gk)"/>
<circle cx="421.59" cy="404.76" r="3.5" fill="url(#gk)"/>
<circle cx="442.78" cy="402.43" r="3.5" fill="url(#gk)"/>
<circle cx="463.97" cy="397.51" r="3.5" fill="url(#gk)"/>
<circle cx="480.93" cy="390.84" r="3.5" fill="url(#gk)"/>
<circle cx="506.36" cy="381.58" r="3.5" fill="url(#gk)"/>
<circle cx="336.83" cy="408.81" r="3.5" fill="url(#gr)"/>
<circle cx="341.07" cy="408.61" r="3.5" fill="url(#gr)"/>
<circle cx="353.78" cy="408.04" r="3.5" fill="url(#gr)"/>
<circle cx="370.73" cy="407.02" r="3.5" fill="url(#gr)"/>
<circle cx="389.81" cy="405.47" r="3.5" fill="url(#gr)"/>
<circle cx="402.52" cy="403.93" r="3.5" fill="url(#gr)"/>
<circle cx="421.59" cy="398.93" r="3.5" fill="url(#gr)"/>
<circle cx="442.78" cy="392.6" r="3.5" fill="url(#gr)"/>
<circle cx="463.97" cy="382.54" r="3.5" fill="url(#gr)"/>
<circle cx="480.93" cy="370.45" r="3.5" fill="url(#gr)"/>
<circle cx="506.36" cy="346.48" r="3.5" fill="url(#gr)"/>
<circle cx="336.83" cy="408.63" r="3.5" fill="url(#gb)"/>
<circle cx="341.07" cy="408.28" r="3.5" fill="url(#gb)"/>
<circle cx="353.78" cy="407.21" r="3.5" fill="url(#gb)"/>
<circle cx="370.73" cy="405.24" r="3.5" fill="url(#gb)"/>
<circle cx="389.81" cy="402.3" r="3.5" fill="url(#gb)"/>
<circle cx="402.52" cy="398.62" r="3.5" fill="url(#gb)"/>
<circle cx="421.59" cy="392.76" r="3.5" fill="url(#gb)"/>
<circle cx="442.78" cy="380.3" r="3.5" fill="url(#gb)"/>
<circle cx="463.97" cy="361.74" r="3.5" fill="url(#gb)"/>
<circle cx="485.17" cy="346.48" r="3.5" fill="url(#gb)"/>
<circle cx="510.59" cy="301.25" r="3.5" fill="url(#gb)"/>
<circle cx="336.83" cy="408.39" r="3.5" fill="url(#gm)"/>
<circle cx="341.07" cy="407.74" r="3.5" fill="url(#gm)"/>
<circle cx="353.78" cy="405.61" r="3.5" fill="url(#gm)"/>
<circle cx="370.73" cy="402.5" r="3.5" fill="url(#gm)"/>
<circle cx="389.81" cy="396.28" r="3.5" fill="url(#gm)"/>
<circle cx="402.52" cy="389.1" r="3.5" fill="url(#gm)"/>
<circle cx="421.59" cy="373.82" r="3.5" fill="url(#gm)"/>
<circle cx="442.78" cy="348.06" r="3.5" fill="url(#gm)"/>
<circle cx="463.97" cy="319.28" r="3.5" fill="url(#gm)"/>
<circle cx="485.17" cy="290.91" r="3.5" fill="url(#gm)"/>
<circle cx="508.48" cy="255.92" r="3.5" fill="url(#gm)"/>
<circle cx="356.6" cy="257.6" r="3.5" fill="url(#gk)"/>
<text x="372" y="261.68" font-size="12" text-anchor="start" >30<tspan font-size="7.2" dy="-4.1">o</tspan><tspan dy="4.1">C</tspan></text>
<circle cx="356.6" cy="271.95" r="3.5" fill="url(#gr)"/>
<text x="372" y="276.03" font-size="12" text-anchor="start" >40<tspan font-size="7.2" dy="-4.1">o</tspan><tspan dy="4.1">C</tspan></text>
<circle cx="356.6" cy="286.3" r="3.5" fill="url(#gb)"/>
<text x="372" y="290.38" font-size="12" text-anchor="start" >50<tspan font-size="7.2" dy="-4.1">o</tspan><tspan dy="4.1">C</tspan></text>
<circle cx="356.6" cy="300.65" r="3.5" fill="url(#gm)"/>
<text x="372" y="304.73" font-size="12" text-anchor="start" >70<tspan font-size="7.2" dy="-4.1">o</tspan><tspan dy="4.1">C</tspan></text>
<text x="263.8" y="463.6" font-size="12.2" text-anchor="start" letter-spacing="0.7">(<tspan font-weight="bold">b</tspan>)</text>
</g>
</svg></body></html>
